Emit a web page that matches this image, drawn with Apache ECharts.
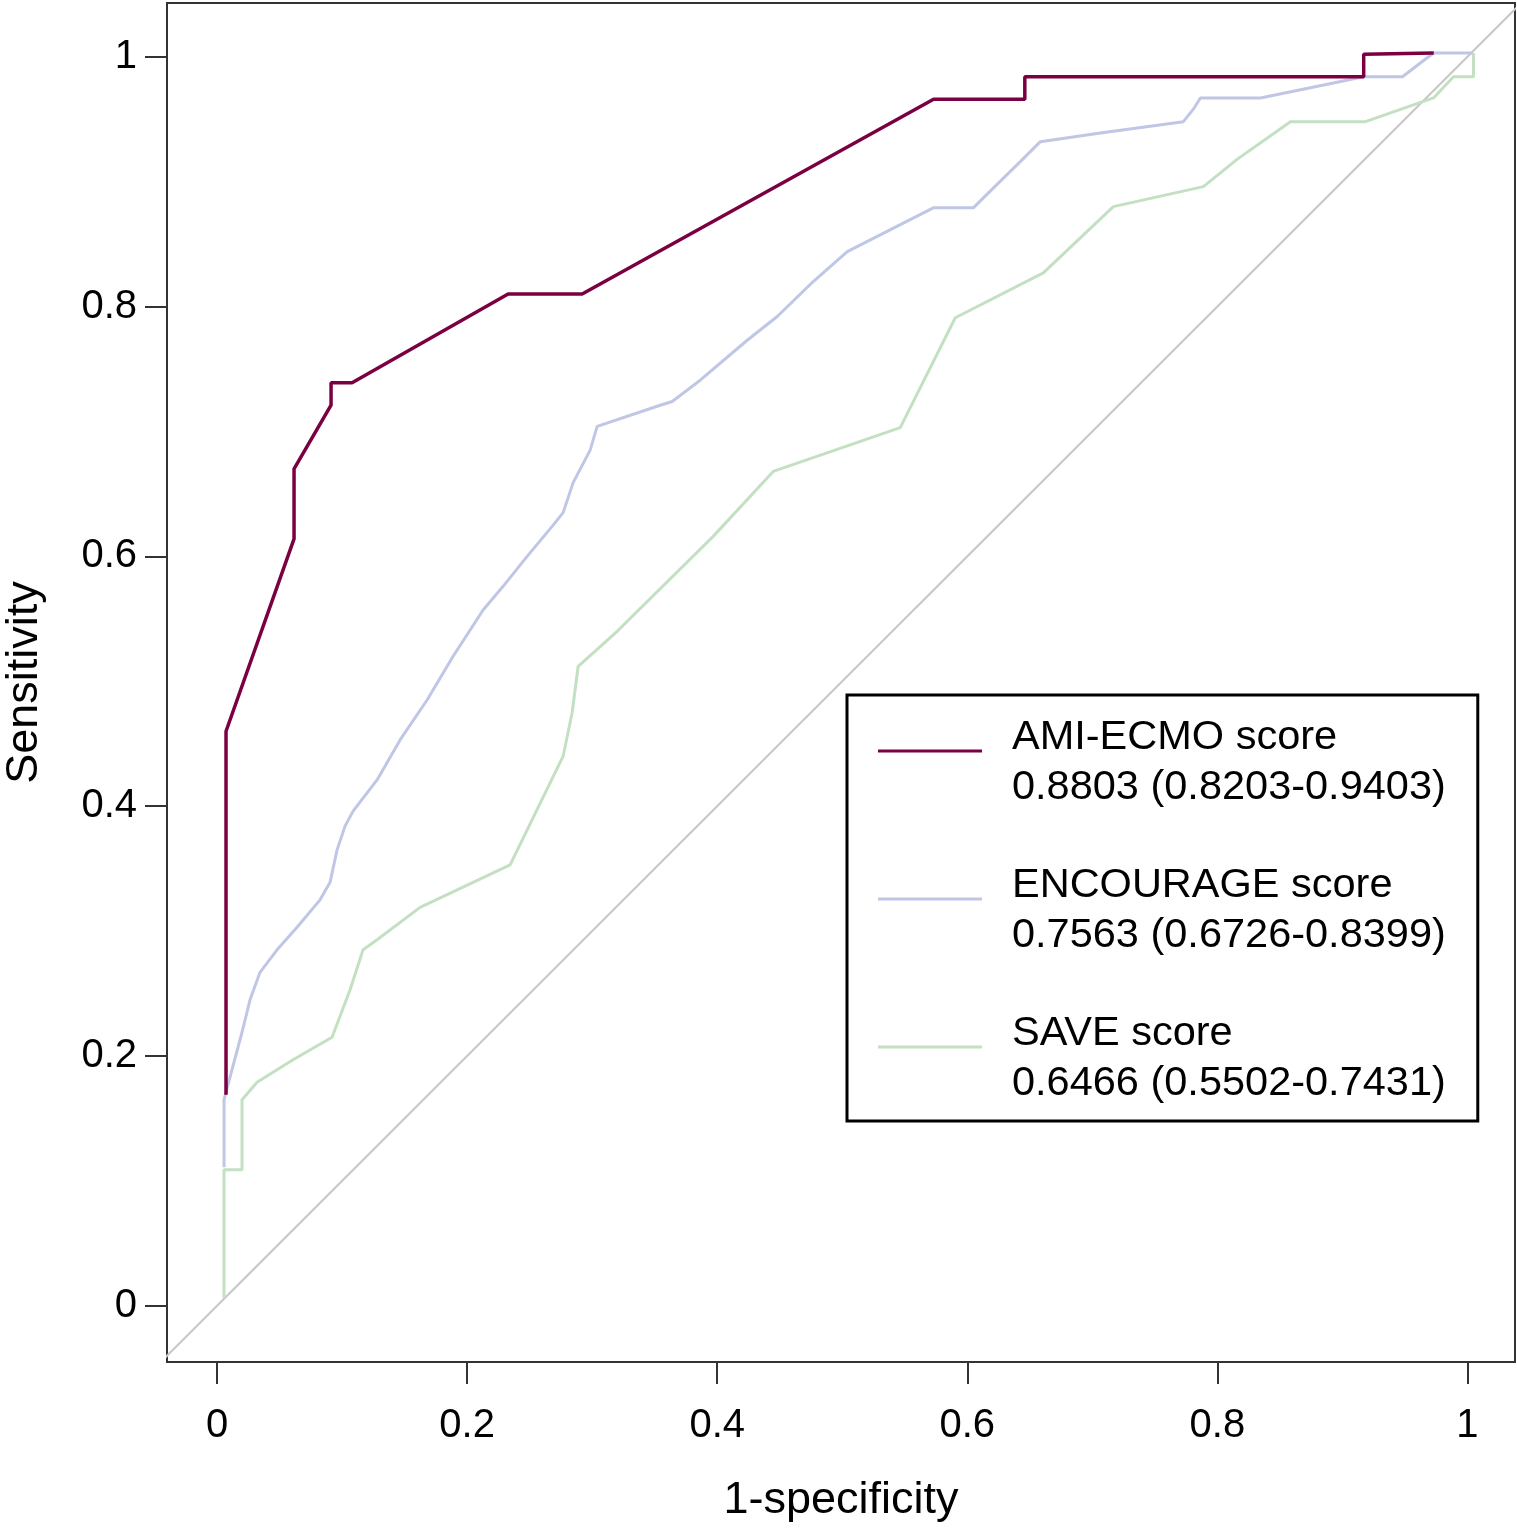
<!DOCTYPE html>
<html>
<head>
<meta charset="utf-8">
<script src="https://cdn.jsdelivr.net/npm/echarts@6/dist/echarts.min.js"></script>
<style>html,body{margin:0;padding:0;background:#fff}#c{width:1517px;height:1528px}</style>
</head>
<body>
<div id="c"></div>
<script>
// Series names and legend text
var seriesNames = ['AMI-ECMO score', 'ENCOURAGE score', 'SAVE score'];
var aucLabels = ['0.8803 (0.8203-0.9403)', '0.7563 (0.6726-0.8399)', '0.6466 (0.5502-0.7431)'];
var tickValues = [0, 0.2, 0.4, 0.6, 0.8, 1];
var xTitle = '1-specificity';
var yTitle = 'Sensitivity';

// [1-specificity, sensitivity]
var amiEcmo = [
  [0.0072,0.169],[0.0072,0.460],[0.0616,0.614],[0.0616,0.670],[0.0912,0.721],[0.0912,0.739],
  [0.108,0.739],[0.2328,0.810],[0.292,0.810],[0.573,0.966],[0.646,0.966],[0.646,0.984],
  [0.917,0.984],[0.917,1.002],[0.973,1.003]
];
var encourage = [
  [0.0056,0.111],[0.0056,0.165],[0.012,0.189],[0.020,0.219],[0.0264,0.245],[0.0344,0.267],
  [0.048,0.285],[0.064,0.303],[0.0824,0.325],[0.0904,0.339],[0.096,0.365],[0.1024,0.384],
  [0.1088,0.396],[0.128,0.421],[0.1464,0.453],[0.168,0.485],[0.1888,0.520],[0.2128,0.557],
  [0.2288,0.576],[0.248,0.600],[0.268,0.624],[0.2768,0.635],[0.2848,0.659],[0.2984,0.685],
  [0.304,0.704],[0.3544,0.721],[0.364,0.724],[0.3864,0.741],[0.424,0.773],[0.448,0.792],
  [0.4768,0.820],[0.504,0.844],[0.5728,0.879],[0.6048,0.879],[0.624,0.898],[0.6424,0.916],
  [0.6584,0.932],[0.7064,0.939],[0.7728,0.948],[0.7808,0.958],[0.7864,0.967],[0.8344,0.967],
  [0.8928,0.979],[0.9168,0.984],[0.948,0.984],[0.9728,1.003],[1.004,1.003]
];
var save = [
  [0.0056,0.0064],[0.0056,0.109],[0.020,0.109],[0.020,0.165],[0.032,0.179],[0.0608,0.197],
  [0.092,0.215],[0.1064,0.253],[0.1168,0.285],[0.128,0.293],[0.1624,0.319],[0.2344,0.353],
  [0.2768,0.440],[0.284,0.475],[0.2888,0.512],[0.32,0.540],[0.3968,0.616],[0.4448,0.668],
  [0.5464,0.703],[0.5904,0.791],[0.6608,0.827],[0.6904,0.855],[0.7168,0.880],[0.7888,0.896],
  [0.816,0.918],[0.8584,0.948],[0.9184,0.948],[0.9728,0.967],[0.9888,0.984],[1.0048,0.984],
  [1.0048,1.003]
];
var reference = [[-0.05,-0.05],[1.05,1.05]];

var FONT = '"Liberation Sans", Arial, Helvetica, sans-serif';
var chart = echarts.init(document.getElementById('c'), null, {renderer: 'canvas'});
var axisCommon = {
  type: 'value',
  splitLine: {show: false},
  axisLine: {show: true, onZero: false, lineStyle: {color: '#333', width: 2}},
  axisTick: {show: true, inside: false, length: 22, customValues: tickValues, lineStyle: {color: '#333', width: 2}},
  nameLocation: 'middle',
  nameTextStyle: {fontFamily: FONT, fontSize: 45, color: '#000'}
};
chart.setOption({
  animation: false,
  backgroundColor: '#fff',
  grid: {left: 167, right: 2, top: 3, bottom: 166, show: true, borderColor: '#333', borderWidth: 2,
         containLabel: false, outerBoundsMode: 'none'},
  xAxis: Object.assign({}, axisCommon, {
    min: -0.04, max: 1.038,
    name: xTitle, nameGap: 116,
    axisLabel: {customValues: tickValues, margin: 44, fontFamily: FONT, fontSize: 40, color: '#000'}
  }),
  yAxis: Object.assign({}, axisCommon, {
    min: -0.045, max: 1.043,
    name: yTitle, nameGap: 120,
    axisLabel: {customValues: tickValues, margin: 30, fontFamily: FONT, fontSize: 40, color: '#000'}
  }),
  legend: {
    data: seriesNames,
    orient: 'vertical',
    left: 847, top: 695,
    padding: [22, 32, 16, 31],
    itemGap: 56,
    itemWidth: 104, itemHeight: 3,
    icon: 'rect',
    borderColor: '#000', borderWidth: 3,
    backgroundColor: '#fff',
    formatter: function (name) {
      return '{a|' + name + '}\n{b|' + aucLabels[seriesNames.indexOf(name)] + '}';
    },
    textStyle: {
      fontFamily: FONT, fontSize: 41.5, color: '#000', padding: [0, 0, 0, 25],
      rich: {
        a: {fontFamily: FONT, fontSize: 41.5, color: '#000', lineHeight: 74},
        b: {fontFamily: FONT, fontSize: 41.5, color: '#000', lineHeight: 26}
      }
    }
  },
  series: [
    {type: 'line', name: 'ref', data: reference, symbol: 'none', silent: true, z: 1,
     lineStyle: {color: '#c8c8c8', width: 2}},
    {type: 'line', name: seriesNames[2], data: save, symbol: 'none', z: 2,
     color: '#c3e0c2', lineStyle: {color: '#c3e0c2', width: 3}},
    {type: 'line', name: seriesNames[1], data: encourage, symbol: 'none', z: 3,
     color: '#c0c6e5', lineStyle: {color: '#c0c6e5', width: 3}},
    {type: 'line', name: seriesNames[0], data: amiEcmo, symbol: 'none', z: 4,
     color: '#7b0042', lineStyle: {color: '#7b0042', width: 3.5}}
  ]
});
</script>
</body>
</html>
